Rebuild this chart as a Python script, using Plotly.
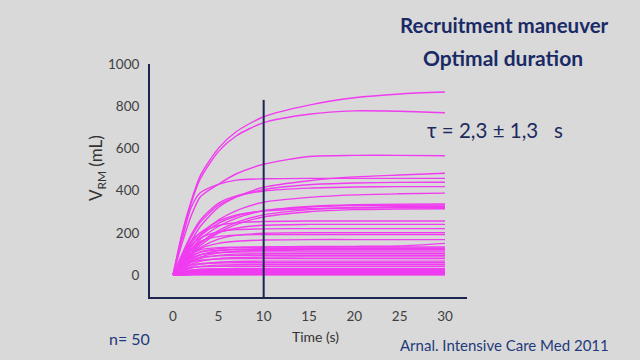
import plotly.graph_objects as go

# Sample times (s)
time_s = [0, 1, 2, 3, 5, 7, 10, 15, 20, 25, 30]

# Volume recruited (mL) at each sample time
upper_curves = [
    [0, 200, 350, 470, 600, 680, 750, 805, 840, 858, 867],
    [0, 190, 340, 455, 585, 660, 722, 762, 778, 776, 769],
    [0, 150, 280, 370, 430, 480, 525, 562, 567, 567, 565],
    [0, 170, 320, 390, 430, 450, 456, 458, 458, 458, 458],
    [0, 80, 160, 230, 320, 370, 416, 447, 465, 474, 482],
    [0, 90, 180, 250, 330, 370, 405, 428, 436, 439, 440],
    [0, 100, 190, 260, 340, 375, 398, 412, 417, 419, 419],
    [0, 70, 135, 190, 260, 305, 345, 368, 380, 385, 388],
]

middle_curves = [
    [0, 60, 120, 170, 230, 270, 305, 325, 333, 336, 337],
    [0, 70, 135, 185, 245, 280, 305, 322, 329, 331, 332],
    [0, 55, 105, 150, 210, 250, 285, 310, 320, 324, 326],
    [0, 80, 150, 200, 255, 285, 303, 314, 318, 320, 320],
    [0, 50, 100, 140, 200, 240, 275, 300, 310, 313, 314],
    [0, 90, 160, 200, 235, 248, 254, 256, 256, 256, 256],
    [0, 60, 115, 155, 200, 222, 236, 240, 240, 240, 240],
    [0, 80, 140, 175, 205, 215, 219, 220, 220, 220, 220],
    [0, 50, 95, 130, 170, 188, 198, 201, 201, 201, 201],
    [0, 70, 125, 160, 182, 189, 192, 192, 192, 192, 192],
    [0, 50, 95, 125, 150, 160, 166, 168, 168, 168, 168],
]

lower_curves = [
    [0, 45, 85, 110, 125, 130, 133, 135, 136, 138, 150],
    [0, 60, 100, 120, 130, 132, 133, 133, 133, 133, 133],
    [0, 40, 75, 95, 115, 122, 126, 127, 127, 127, 127],
    [0, 50, 90, 108, 118, 121, 122, 122, 122, 122, 122],
    [0, 35, 65, 85, 105, 113, 117, 118, 118, 118, 118],
    [0, 45, 80, 97, 106, 109, 110, 110, 110, 110, 110],
    [0, 30, 60, 78, 93, 99, 101, 102, 102, 102, 102],
    [0, 40, 70, 84, 91, 93, 94, 94, 94, 94, 94],
    [0, 25, 50, 65, 78, 83, 85, 86, 86, 86, 86],
    [0, 35, 60, 70, 76, 78, 78, 78, 78, 78, 78],
    [0, 20, 40, 52, 61, 64, 66, 66, 66, 66, 66],
    [0, 30, 48, 54, 57, 58, 58, 58, 58, 58, 58],
    [0, 18, 33, 41, 47, 49, 50, 50, 50, 50, 50],
    [0, 22, 35, 39, 41, 42, 42, 42, 42, 42, 42],
]

floor_curves = [
    [0, 14, 24, 28, 30, 31, 31, 31, 31, 31, 31],
    [0, 12, 21, 25, 27, 28, 28, 28, 28, 28, 28],
    [0, 11, 19, 23, 25, 25, 25, 25, 25, 25, 25],
    [0, 9, 16, 20, 22, 22, 22, 22, 22, 22, 22],
    [0, 9, 15, 18, 20, 20, 20, 20, 20, 20, 20],
    [0, 8, 13, 16, 18, 18, 18, 18, 18, 18, 18],
    [0, 7, 11, 14, 15, 15, 15, 15, 15, 15, 15],
    [0, 6, 10, 12, 13, 13, 13, 13, 13, 13, 13],
    [0, 5, 8, 10, 11, 11, 11, 11, 11, 11, 11],
    [0, 4, 7, 8, 9, 9, 9, 9, 9, 9, 9],
    [0, 3, 5, 6, 7, 7, 7, 7, 7, 7, 7],
    [0, 3, 4, 5, 6, 6, 6, 6, 6, 6, 6],
    [0, 2, 4, 4, 5, 5, 5, 5, 5, 5, 5],
    [0, 2, 3, 4, 4, 4, 4, 4, 4, 4, 4],
    [0, 1, 2, 3, 3, 3, 3, 3, 3, 3, 3],
    [0, 1, 2, 2, 2, 2, 2, 2, 2, 2, 2],
    [0, 1, 1, 1, 1, 1, 1, 1, 1, 1, 1],
]

x_ticks = [0, 5, 10, 15, 20, 25, 30]
y_ticks = [0, 200, 400, 600, 800, 1000]
marker_time = [10, 10]
marker_volume = [-104, 830]

BG = "#d9d9d9"
NAVY = "#1a2a66"
AXIS = "#1c2550"
MAGENTA = "#f03cf0"
FONT = "Lato"

fig = go.Figure()
for group in (upper_curves, middle_curves, lower_curves, floor_curves):
    for vals in group:
        fig.add_trace(go.Scatter(
            x=time_s, y=vals, mode="lines",
            line=dict(color=MAGENTA, width=1.4, shape="spline", smoothing=0.7),
            showlegend=False, hoverinfo="skip"))

fig.add_trace(go.Scatter(x=marker_time, y=marker_volume, mode="lines",
                         line=dict(color=AXIS, width=2), showlegend=False,
                         hoverinfo="skip", cliponaxis=False))

L, R, T, B = 150, 467, 64, 297


def px(xp, yp):
    return (xp - L) / (R - L), (B - yp) / (B - T)


def ann(text, xp, yp, size, color, xanchor="center", bold=False, angle=0):
    x, y = px(xp, yp)
    if bold:
        text = "<b>" + text + "</b>"
    fig.add_annotation(text=text, x=x, y=y, xref="paper", yref="paper",
                       xanchor=xanchor, yanchor="middle", showarrow=False,
                       textangle=angle,
                       font=dict(family=FONT, size=size, color=color))


ann("Recruitment maneuver", 504, 25, 20.5, NAVY, bold=True)
ann("Optimal duration", 503, 57, 21, NAVY, bold=True)
ann("τ = 2,3 ± 1,3 \u00a0\u00a0s", 425, 130, 20.5, "#1c2a5c", xanchor="left")
ann("n= 50", 107, 338, 16, "#1f3a7a", xanchor="left")
ann("Time (s)", 315, 336, 14, "#333333")
ann("Arnal. Intensive Care Med 2011", 611, 345, 15, "#1f3a7a", xanchor="right")
ann("V<sub>RM</sub> (mL)", 97, 168, 17, "#333333", angle=-90)

fig.update_layout(
    width=640, height=360,
    margin=dict(l=L, r=640 - R, t=T, b=360 - B),
    paper_bgcolor=BG, plot_bgcolor=BG,
    font=dict(family=FONT, size=13, color="#404040"),
    xaxis=dict(range=[-2.54, 32.43], tickvals=x_ticks, showgrid=False,
               zeroline=False, showline=True, linecolor=AXIS, linewidth=2,
               ticks="outside", ticklen=6, tickcolor="rgba(0,0,0,0)",
               tickfont=dict(size=13.5, color="#404040")),
    yaxis=dict(range=[-104, 1000], tickvals=y_ticks, showgrid=False,
               zeroline=False, showline=True, linecolor=AXIS, linewidth=2,
               ticks="outside", ticklen=6, tickcolor="rgba(0,0,0,0)",
               tickfont=dict(size=13.5, color="#404040")),
)

fig.write_html("out.html", config={"displayModeBar": False},
               post_script="document.body.style.margin='0';")
